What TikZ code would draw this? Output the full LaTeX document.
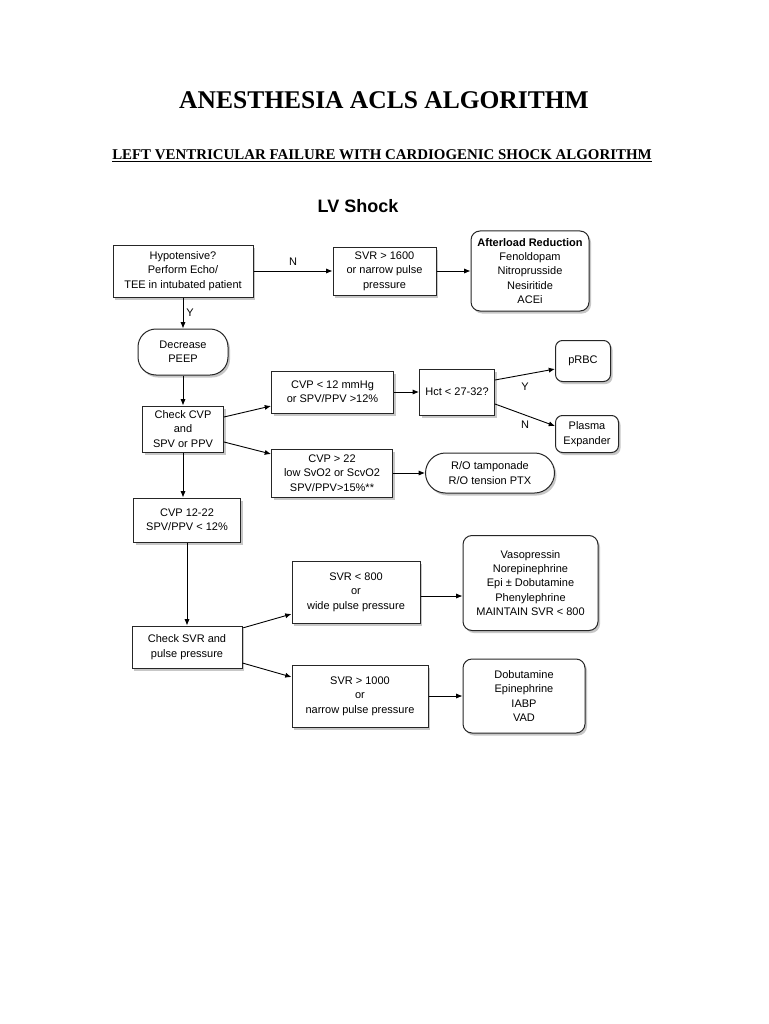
\documentclass[tikz,border=0pt]{standalone}
\usepackage{fontspec}
\setmainfont{Liberation Serif}
\newfontfamily\flowfont{Liberation Sans}
\usetikzlibrary{arrows.meta,positioning,shadows}
\tikzset{
  stepbox/.style={draw=black!85, line width=1pt, fill=white, align=center, inner sep=2pt,
    font=\flowfont\fontsize{11}{14.4}\selectfont,
    drop shadow={shadow xshift=2pt, shadow yshift=-2.5pt, opacity=0.4, fill=black!55}},
  roundbox/.style={stepbox, rounded corners=9pt},
  pillbox/.style={stepbox, rounded corners=18pt},
  arrow/.style={-{Latex[length=2.2mm, width=1.8mm]}, line width=0.9pt},
  branch/.style={font=\flowfont\fontsize{11}{13}\selectfont, inner sep=2pt}
}

\begin{document}
\begin{tikzpicture}[x=1pt, y=-1pt]
  \fill[white] (0,0) rectangle (768,1024);

  % headings
  \node[anchor=base] (title) at (384,109) {\fontsize{25.5}{30}\selectfont\bfseries ANESTHESIA ACLS ALGORITHM};
  \node[anchor=base] (subtitle) at (382,160) {\fontsize{14.9}{18}\selectfont\bfseries\underline{LEFT VENTRICULAR FAILURE WITH CARDIOGENIC SHOCK ALGORITHM}};
  \node[anchor=base] (lvshock) at (358,213) {\flowfont\fontsize{18}{20}\selectfont\bfseries LV Shock};

  % main column
  \node[stepbox, minimum width=140pt, minimum height=52pt] (hypo) at (183,271) {Hypotensive?\\Perform Echo/\\TEE in intubated patient};
  \node[stepbox, minimum width=103pt, minimum height=48pt, right=79pt of hypo] (svrhi) {SVR > 1600\\or narrow pulse\\pressure};
  \node[roundbox, minimum width=118pt, minimum height=80pt, right=34pt of svrhi] (afterload) {\textbf{Afterload Reduction}\\Fenoldopam\\Nitroprusside\\Nesiritide\\ACEi};
  \node[pillbox, minimum width=90pt, minimum height=46pt, below=31pt of hypo] (peep) {Decrease\\PEEP};
  \node[stepbox, minimum width=81pt, minimum height=46pt, below=30pt of peep] (checkcvp) {Check CVP\\and\\SPV or PPV};
  \node[stepbox, minimum width=107pt, minimum height=44pt, below=45pt of checkcvp, xshift=4pt] (cvpmid) {CVP 12-22\\SPV/PPV < 12\%};
  \node[stepbox, minimum width=110pt, minimum height=42pt, below=83pt of cvpmid] (checksvr) {Check SVR and\\pulse pressure};

  % CVP branches
  \node[stepbox, minimum width=122pt, minimum height=42pt, right=47pt of checkcvp, yshift=37pt] (cvplow) {CVP < 12 mmHg\\or SPV/PPV >12\%};
  \node[stepbox, minimum width=75pt, minimum height=46pt, right=25pt of cvplow] (hct) {Hct < 27-32?};
  \node[roundbox, rounded corners=7pt, minimum width=55pt, minimum height=41pt, right=60pt of hct, yshift=31pt] (prbc) {pRBC};
  \node[roundbox, rounded corners=7pt, minimum width=63pt, minimum height=37pt, right=60pt of hct, yshift=-42pt] (plasma) {Plasma\\Expander};
  \node[stepbox, minimum width=121pt, minimum height=48pt, right=47pt of checkcvp, yshift=-44pt] (cvphigh) {CVP > 22\\low SvO2 or ScvO2\\SPV/PPV>15\%**};
  \node[pillbox, rounded corners=20pt, minimum width=129pt, minimum height=40pt, right=32pt of cvphigh] (tamp) {R/O tamponade\\R/O tension PTX};

  % SVR branches
  \node[stepbox, minimum width=128pt, minimum height=62pt, right=49pt of checksvr, yshift=55pt] (svrlow) {SVR < 800\\or\\wide pulse pressure};
  \node[roundbox, minimum width=135pt, minimum height=95pt, right=42pt of svrlow, yshift=9pt] (vaso) {Vasopressin\\Norepinephrine\\Epi ± Dobutamine\\Phenylephrine\\MAINTAIN SVR < 800};
  \node[stepbox, minimum width=136pt, minimum height=62pt, right=49pt of checksvr, yshift=-49pt] (svrnarrow) {SVR > 1000\\or\\narrow pulse pressure};
  \node[roundbox, minimum width=122pt, minimum height=74pt, right=34pt of svrnarrow] (dobu) {Dobutamine\\Epinephrine\\IABP\\VAD};

  % connectors
  \draw[arrow] (hypo) -- node[branch, midway, above=3pt] {N} (svrhi);
  \draw[arrow] (svrhi) -- (afterload);
  \draw[arrow] (hypo) -- node[branch, midway, right=1pt] {Y} (peep);
  \draw[arrow] (peep) -- (checkcvp);
  \draw[arrow] (checkcvp.south) -- (checkcvp.south |- cvpmid.north);
  \draw[arrow] (cvpmid) -- (checksvr);
  \draw[arrow] ([yshift=12pt]checkcvp.east) -- ([yshift=-14pt]cvplow.west);
  \draw[arrow] ([yshift=-13pt]checkcvp.east) -- ([yshift=19pt]cvphigh.west);
  \draw[arrow] (cvplow) -- (hct);
  \draw[arrow] ([yshift=12pt]hct.east) -- node[branch, midway, below=6pt] {Y} ([yshift=-8pt]prbc.west);
  \draw[arrow] ([yshift=-12pt]hct.east) -- node[branch, midway, below=3pt] {N} ([yshift=8pt]plasma.west);
  \draw[arrow] (cvphigh) -- (tamp);
  \draw[arrow] ([yshift=19pt]checksvr.east) -- ([yshift=-22pt]svrlow.west);
  \draw[arrow] ([yshift=-16pt]checksvr.east) -- ([yshift=19pt]svrnarrow.west);
  \draw[arrow] ([yshift=-4pt]svrlow.east) -- ([yshift=-4pt]svrlow.east -| vaso.west);
  \draw[arrow] (svrnarrow) -- (dobu);
\end{tikzpicture}
\end{document}
